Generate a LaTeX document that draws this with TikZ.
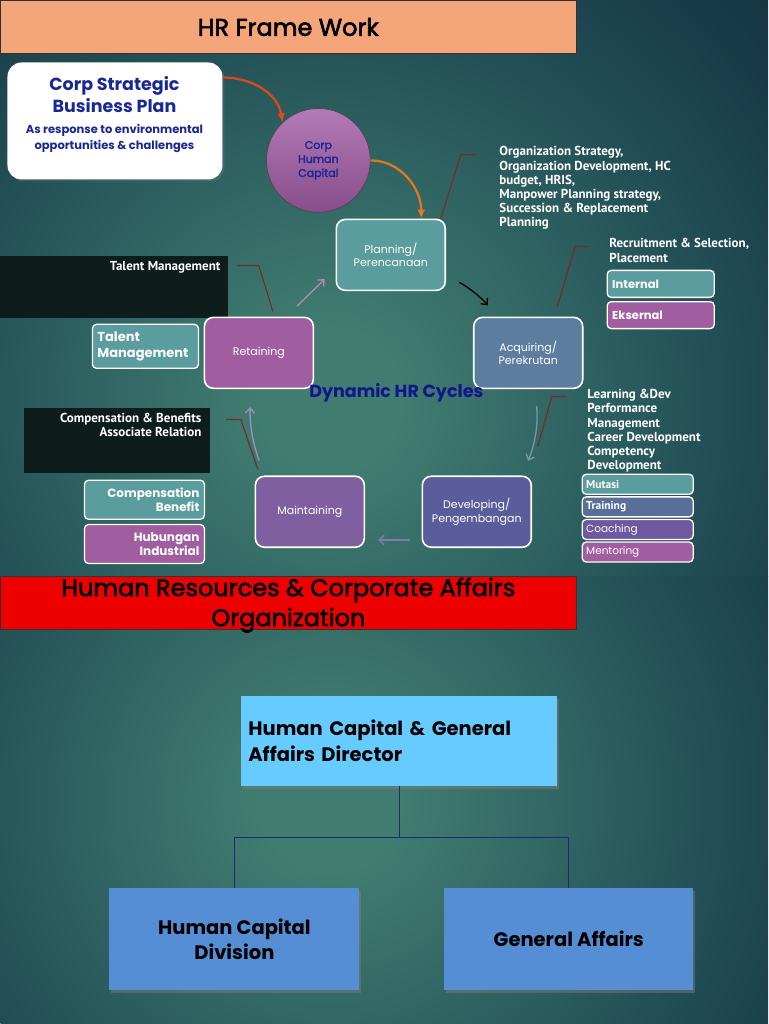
\documentclass[tikz,border=0pt]{standalone}
\usepackage{fontspec}
\setmainfont{Poppins}
\newfontfamily\popsemi{Poppins}[FakeBold=2.5]
\newfontfamily\calfont{PT Sans}
\usetikzlibrary{arrows.meta,positioning,shadows}
\definecolor{titleorange}{RGB}{244,165,122}
\definecolor{corpblue}{RGB}{26,40,150}
\definecolor{dynblue}{RGB}{20,20,140}
\definecolor{hcpurple}{RGB}{160,90,164}
\definecolor{boxteal}{RGB}{91,157,158}
\definecolor{boxslate}{RGB}{92,125,158}
\definecolor{boxindigo}{RGB}{90,92,156}
\definecolor{boxviolet}{RGB}{127,95,159}
\definecolor{boxmagenta}{RGB}{160,94,160}
\definecolor{tagslate}{RGB}{90,110,154}
\definecolor{tagviolet}{RGB}{112,88,160}
\definecolor{calred}{RGB}{118,44,44}
\definecolor{arrred}{RGB}{224,74,26}
\definecolor{arrorange}{RGB}{232,118,28}
\definecolor{dirblue}{RGB}{102,204,255}
\definecolor{divblue}{RGB}{85,142,213}
\definecolor{linknavy}{RGB}{28,40,120}
\definecolor{darkpanel}{RGB}{14,28,28}
\definecolor{barred}{RGB}{238,0,0}
\definecolor{bgin}{RGB}{64,124,112}
\definecolor{bgmid}{RGB}{52,106,102}
\definecolor{bgfar}{RGB}{36,82,88}
\definecolor{bgout}{RGB}{24,58,72}
\definecolor{bgcorner}{RGB}{18,44,60}
\pgfdeclareradialshading{slideglow}{\pgfpoint{0bp}{0bp}}{%
  color(0bp)=(bgin); color(4bp)=(bgin); color(11bp)=(bgmid);
  color(20bp)=(bgfar); color(30bp)=(bgout); color(40bp)=(bgcorner); color(71bp)=(bgcorner)}

\begin{document}
\begin{tikzpicture}[
    x=1pt, y=-1pt,
    titlebar/.style={draw=black!80, line width=1pt, minimum width=576pt, minimum height=53pt, inner sep=0pt},
    cycbox/.style={draw=white, line width=1.6pt, rounded corners=9pt, minimum width=109pt, minimum height=71pt,
      text=white, align=center, inner sep=2pt, font=\fontsize{11}{13.5}\selectfont},
    tagbox/.style={draw=white, line width=1.3pt, rounded corners=4pt, text=white, inner sep=4pt},
    panel/.style={fill=darkpanel, inner sep=0pt},
    caltext/.style={text=white, inner sep=0pt, font=\calfont\bfseries\fontsize{13}{14.2}\selectfont},
    calline/.style={draw=calred, line width=1.2pt},
    cycarr/.style={-{Straight Barb[length=5pt,width=9pt]}, line width=1.3pt},
    orarr/.style={-{Latex[length=9pt,width=8pt]}, line width=2.2pt},
    orgbox/.style={fill=divblue, minimum width=250pt, minimum height=102pt, align=center,
      font=\bfseries\fontsize{19.5}{25}\selectfont,
      drop shadow={shadow xshift=2pt, shadow yshift=-3pt, opacity=0.45}},
    orgline/.style={draw=linknavy, line width=1pt}
  ]
  % background of the two slides
  \begin{scope}
    \clip (0,0) rectangle (768,576);
    \shade[shading=slideglow] (-120,-50) rectangle (780,850);
  \end{scope}
  \begin{scope}
    \clip (0,576) rectangle (768,1024);
    \shade[shading=slideglow] (-120,350) rectangle (780,1250);
  \end{scope}

  % slide 1: HR frame work
  \node[titlebar, fill=titleorange, font=\popsemi\fontsize{24}{26}\selectfont] (hrtitle) at (288,26.5) {HR Frame Work};

  \node[fill=white, rounded corners=14pt, minimum width=215pt, minimum height=117pt,
    drop shadow={shadow xshift=2pt, shadow yshift=-2pt, opacity=0.3}] (corpplan) at (114.5,120.5) {};
  \node[text=corpblue, align=center, font=\bfseries\fontsize{17.5}{22}\selectfont] (corphead) at (114,94) {Corp Strategic\\Business Plan};
  \node[text=corpblue, align=center, font=\bfseries\fontsize{11.5}{16}\selectfont] (corpsub) at (114,138) {As response to environmental\\opportunities \& challenges};

  \node[circle, draw=black!70, line width=0.8pt, top color=hcpurple!80!white, bottom color=hcpurple!85!black,
    minimum size=104pt, align=center, text=corpblue, font=\popsemi\fontsize{11}{14}\selectfont] (corphc) at (318,160) {Corp\\Human\\Capital};

  \node[cycbox, fill=boxteal] (plan) at (390.5,254.5) {Planning/\\Perencanaan};
  \node[cycbox, fill=boxslate] (acq) at (528,352.5) {Acquiring/\\Perekrutan};
  \node[cycbox, fill=boxindigo] (dev) at (476.5,511.5) {Developing/\\Pengembangan};
  \node[cycbox, fill=boxviolet] (maint) at (309.5,511.5) {Maintaining};
  \node[panel, minimum width=228pt, minimum height=62pt] (tmpanel) at (114,287) {};
  \node[panel, minimum width=186pt, minimum height=65pt] (cbpanel) at (117,440.5) {};
  \node[cycbox, fill=boxmagenta] (ret) at (258.5,352.5) {Retaining};

  \node[text=dynblue, font=\bfseries\fontsize{17.5}{20}\selectfont] (dyncyc) at (396,393) {Dynamic HR Cycles};

  \draw[orarr, draw=arrred] (corpplan.22) to[out=0, in=100] (corphc.133);
  \draw[orarr, draw=arrorange] (corphc.east) to[out=0, in=90] (plan.50);

  \draw[cycarr, draw=black, shorten <=15pt, shorten >=15pt] (plan.-20) to[bend left=10] (acq.130);
  \draw[cycarr, draw=boxslate!80!white, shorten <=17pt, shorten >=16pt] (acq.-80) to[bend left=15] (dev.39);
  \draw[cycarr, draw=boxindigo!80!white, shorten <=12pt, shorten >=13pt] (dev.207) -- (maint.333);
  \draw[cycarr, draw=boxviolet!70!white, shorten <=16pt, shorten >=18pt] (maint.141) to[bend left=12] (ret.258);
  \draw[cycarr, draw=boxmagenta!75!white, shorten <=15pt, shorten >=15pt] (ret.53) -- (plan.194);

  % callouts
  \draw[calline] (plan.36) -- ++(20,-64) -- ++(16,0);
  \node[caltext, anchor=north west, align=left] (plantxt) at (499,146)
    {Organization Strategy,\\Organization Development, HC\\budget, HRIS,\\Manpower Planning strategy,\\Succession \& Replacement\\Planning};

  \draw[calline] ([shift={(29,-10)}]acq.north) -- ++(18,-60) -- ++(14,0);
  \node[caltext, anchor=north west, align=left] (acqtxt) at (609,238) {Recruitment \& Selection,\\Placement};
  \node[tagbox, fill=boxteal, minimum width=107pt, minimum height=27pt, text width=97pt, align=left,
    font=\bfseries\fontsize{11.5}{12}\selectfont] (internal) at (660.5,283.5) {Internal};
  \node[tagbox, fill=boxmagenta, minimum width=107pt, minimum height=27pt, text width=97pt, align=left,
    font=\bfseries\fontsize{11.5}{12}\selectfont, below=3pt of internal] (eksternal) {Eksernal};

  \draw[calline] ([shift={(61,-29)}]dev.north) -- ++(14,-50) -- ++(15,0);
  \node[caltext, anchor=north west, align=left] (devtxt) at (587,389)
    {Learning \&Dev\\Performance\\Management\\Career Development\\Competency\\Development};
  \node[tagbox, fill=boxteal, minimum width=111pt, minimum height=20pt, text width=103pt, inner sep=3pt,
    font=\calfont\bfseries\fontsize{11.5}{11}\selectfont] (mutasi) at (637.5,484) {Mutasi};
  \node[tagbox, fill=tagslate, minimum width=111pt, minimum height=20pt, text width=103pt, inner sep=3pt,
    font=\calfont\bfseries\fontsize{11.5}{11}\selectfont, below=1.3pt of mutasi] (training) {Training};
  \node[tagbox, fill=tagviolet, minimum width=111pt, minimum height=20pt, text width=103pt, inner sep=3pt,
    font=\fontsize{10.5}{11}\selectfont, below=1.3pt of training] (coaching) {Coaching};
  \node[tagbox, fill=boxmagenta, minimum width=111pt, minimum height=20pt, text width=103pt, inner sep=3pt,
    font=\fontsize{10.5}{11}\selectfont, below=1.3pt of coaching] (mentoring) {Mentoring};

  \draw[calline] ([shift={(-52,-6)}]maint.north) -- ++(-17,-50) -- ++(-15,0);
  \node[caltext, align=right, below left=5pt and 9pt of cbpanel.north east] (cbtxt) {Compensation \& Benefits\\Associate Relation};
  \node[tagbox, fill=boxteal, minimum width=120pt, minimum height=39pt, text width=110pt, align=right,
    font=\bfseries\fontsize{12}{14}\selectfont] (compben) at (144,499.5) {Compensation\\Benefit};
  \node[tagbox, fill=boxmagenta, minimum width=120pt, minimum height=39pt, text width=110pt, align=right,
    font=\bfseries\fontsize{12}{14}\selectfont, below=4pt of compben] (hubind) {Hubungan\\Industrial};

  \draw[calline] ([shift={(14,-5)}]ret.north) -- ++(-14,-46) -- ++(-22,0);
  \node[caltext, below left=5pt and 8pt of tmpanel.north east] (tmtxt) {Talent Management};
  \node[tagbox, fill=boxteal, minimum width=106pt, minimum height=44pt, text width=96pt, align=left,
    font=\bfseries\fontsize{13}{16}\selectfont] (talent) at (145,346) {Talent\\Management};

  % slide 2: organization
  \node[titlebar, fill=barred] (orgtitle) at (288,602.5) {};
  \node[align=center, font=\popsemi\fontsize{24}{30}\selectfont] (orgtitletxt) at (288,605)
    {Human Resources \& Corporate Affairs\\Organization};

  \node[orgbox, fill=dirblue, minimum width=316pt, minimum height=90pt, text width=302pt, align=left,
    font=\bfseries\fontsize{19.5}{26}\selectfont] (hcdir) at (399,741) {Human Capital \& General\\Affairs Director};
  \node[orgbox] (hcdiv) at (234,939) {Human Capital\\Division};
  \node[orgbox, minimum width=249pt] (gadiv) at (568.5,939) {General Affairs};

  \draw[orgline] (hcdir.south) -- ++(0,51) -| (hcdiv.north);
  \draw[orgline] (hcdir.south) -- ++(0,51) -| (gadiv.north);
\end{tikzpicture}
\end{document}
